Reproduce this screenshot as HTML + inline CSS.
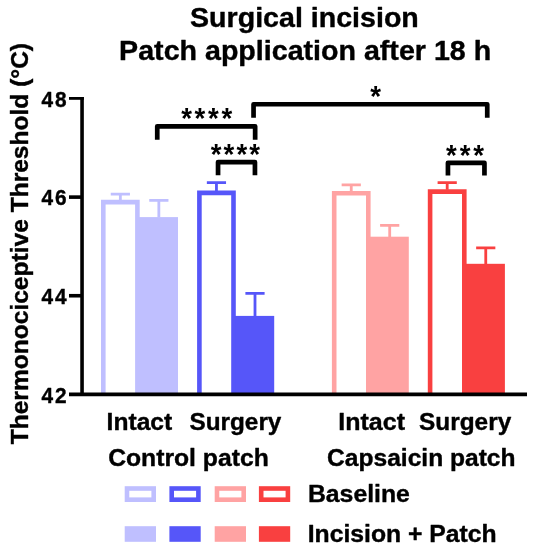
<!DOCTYPE html>
<html lang="en"><head><meta charset="utf-8"><title>Surgical incision - Patch application after 18 h</title>
<style>html,body{margin:0;padding:0;background:#fff;overflow:hidden}svg{display:block}text{font-family:"Liberation Sans", Arial, Helvetica, sans-serif;font-weight:bold;fill:#000;stroke:#000;stroke-width:0.4px;stroke-linejoin:round}</style>
</head><body>
<svg width="537" height="550" viewBox="0 0 537 550">
<rect width="537" height="550" fill="#fff"/>
<text x="190.06" y="26.75" font-size="28.50" textLength="228.76" lengthAdjust="spacingAndGlyphs">Surgical incision</text>
<text x="119.12" y="59.85" font-size="28.50" textLength="372.03" lengthAdjust="spacingAndGlyphs">Patch application after 18 h</text>
<text x="106.62" y="430.40" font-size="24.70" textLength="65.65" lengthAdjust="spacingAndGlyphs">Intact</text>
<text x="189.52" y="430.40" font-size="24.70" textLength="91.84" lengthAdjust="spacingAndGlyphs">Surgery</text>
<text x="108.16" y="465.60" font-size="24.70" textLength="160.60" lengthAdjust="spacingAndGlyphs">Control patch</text>
<text x="338.31" y="430.40" font-size="24.70" textLength="66.67" lengthAdjust="spacingAndGlyphs">Intact</text>
<text x="419.11" y="430.40" font-size="24.70" textLength="92.10" lengthAdjust="spacingAndGlyphs">Surgery</text>
<text x="327.07" y="465.60" font-size="24.70" textLength="188.43" lengthAdjust="spacingAndGlyphs">Capsaicin patch</text>
<text x="307.92" y="501.60" font-size="24.70" textLength="101.96" lengthAdjust="spacingAndGlyphs">Baseline</text>
<text x="307.72" y="541.70" font-size="24.70" textLength="188.99" lengthAdjust="spacingAndGlyphs">Incision + Patch</text>
<text transform="translate(41.5,402.55) scale(0.93,1)" x="0 14.46" y="0" font-size="22.4">42</text>
<text transform="translate(41.5,303.93) scale(0.93,1)" x="0 14.46" y="0" font-size="22.4">44</text>
<text transform="translate(41.5,205.31) scale(0.93,1)" x="0 14.46" y="0" font-size="22.4">46</text>
<text transform="translate(41.5,106.69) scale(0.93,1)" x="0 14.46" y="0" font-size="22.4">48</text>
<text transform="translate(181.22,128.17) scale(0.940,1)" x="0.00 14.26 28.51 42.77" y="0" font-size="29.40" style="stroke-width:0">****</text>
<text transform="translate(210.72,164.47) scale(0.940,1)" x="0.00 13.69 27.38 41.06" y="0" font-size="29.40" style="stroke-width:0">****</text>
<text transform="translate(446.02,165.02) scale(0.940,1)" x="0.00 14.52 29.04" y="0" font-size="29.40" style="stroke-width:0">***</text>
<text transform="translate(370.22,106.32) scale(0.940,1)" x="0.00" y="0" font-size="29.40" style="stroke-width:0">*</text>
<text transform="translate(28.2,444.30) rotate(-90)" font-size="24.8" textLength="401.36" lengthAdjust="spacingAndGlyphs">Thermonociceptive Threshold (°C)</text>
<rect x="137.70" y="217.10" width="40.30" height="177.25" fill="#bfbfff"/>
<path d="M103.30 394.35V202.10H137.40V394.35" fill="none" stroke="#bfbfff" stroke-width="4.60"/>
<path d="M110.75 192.70h19.20v2.80h-8.20V200.30h-2.80V195.50h-8.20z" fill="#bfbfff"/>
<path d="M149.25 198.90h19.20v2.80h-8.20V217.60h-2.80V201.70h-8.20z" fill="#bfbfff"/>
<rect x="233.80" y="315.90" width="40.40" height="78.45" fill="#5656f9"/>
<path d="M199.40 394.35V192.90H233.50V394.35" fill="none" stroke="#5656f9" stroke-width="4.60"/>
<path d="M206.85 181.30h19.20v2.80h-8.20V191.10h-2.80V184.10h-8.20z" fill="#5656f9"/>
<path d="M245.40 292.00h19.20v2.80h-8.20V316.40h-2.80V294.80h-8.20z" fill="#5656f9"/>
<rect x="368.60" y="236.70" width="40.20" height="157.65" fill="#ffa3a3"/>
<path d="M334.20 394.35V193.20H368.30V394.35" fill="none" stroke="#ffa3a3" stroke-width="4.60"/>
<path d="M341.65 183.40h19.20v2.80h-8.20V191.40h-2.80V186.20h-8.20z" fill="#ffa3a3"/>
<path d="M380.10 224.00h19.20v2.80h-8.20V237.20h-2.80V226.80h-8.20z" fill="#ffa3a3"/>
<rect x="464.60" y="263.80" width="40.30" height="130.55" fill="#f94040"/>
<path d="M430.10 394.35V191.60H464.30V394.35" fill="none" stroke="#f94040" stroke-width="4.60"/>
<path d="M437.60 181.30h19.20v2.80h-8.20V189.80h-2.80V184.10h-8.20z" fill="#f94040"/>
<path d="M476.15 246.40h19.20v2.80h-8.20V264.30h-2.80V249.20h-8.20z" fill="#f94040"/>
<g stroke="#000" stroke-width="3.60" fill="none" stroke-linecap="butt">
<path d="M82.05 97.00V394.35"/>
<path d="M69 394.35H527"/>
<path d="M69 295.73H82.05"/>
<path d="M69 197.11H82.05"/>
</g>
<rect x="69" y="97" width="14.85" height="2.8" fill="#000"/>
<g stroke="#000" stroke-width="4.70" fill="none" stroke-linejoin="round" stroke-linecap="butt">
<path d="M157.25 139.70V126.35H255.15V139.70"/>
<path d="M218.05 175.30V162.05H254.95V175.30"/>
<path d="M447.95 175.40V162.85H484.45V175.40"/>
<path d="M253.55 117.70V104.25H487.25V117.70"/>
</g>
<rect x="127.00" y="488.50" width="26.70" height="11.20" fill="#fff" stroke="#bfbfff" stroke-width="4.60"/>
<rect x="124.70" y="526.20" width="31.30" height="15.60" fill="#bfbfff"/>
<rect x="171.70" y="488.50" width="26.70" height="11.20" fill="#fff" stroke="#5656f9" stroke-width="4.60"/>
<rect x="169.40" y="526.20" width="31.30" height="15.60" fill="#5656f9"/>
<rect x="217.00" y="488.50" width="26.70" height="11.20" fill="#fff" stroke="#ffa3a3" stroke-width="4.60"/>
<rect x="214.70" y="526.20" width="31.30" height="15.60" fill="#ffa3a3"/>
<rect x="261.20" y="488.50" width="26.70" height="11.20" fill="#fff" stroke="#f94040" stroke-width="4.60"/>
<rect x="258.90" y="526.20" width="31.30" height="15.60" fill="#f94040"/>
</svg>
</body></html>
